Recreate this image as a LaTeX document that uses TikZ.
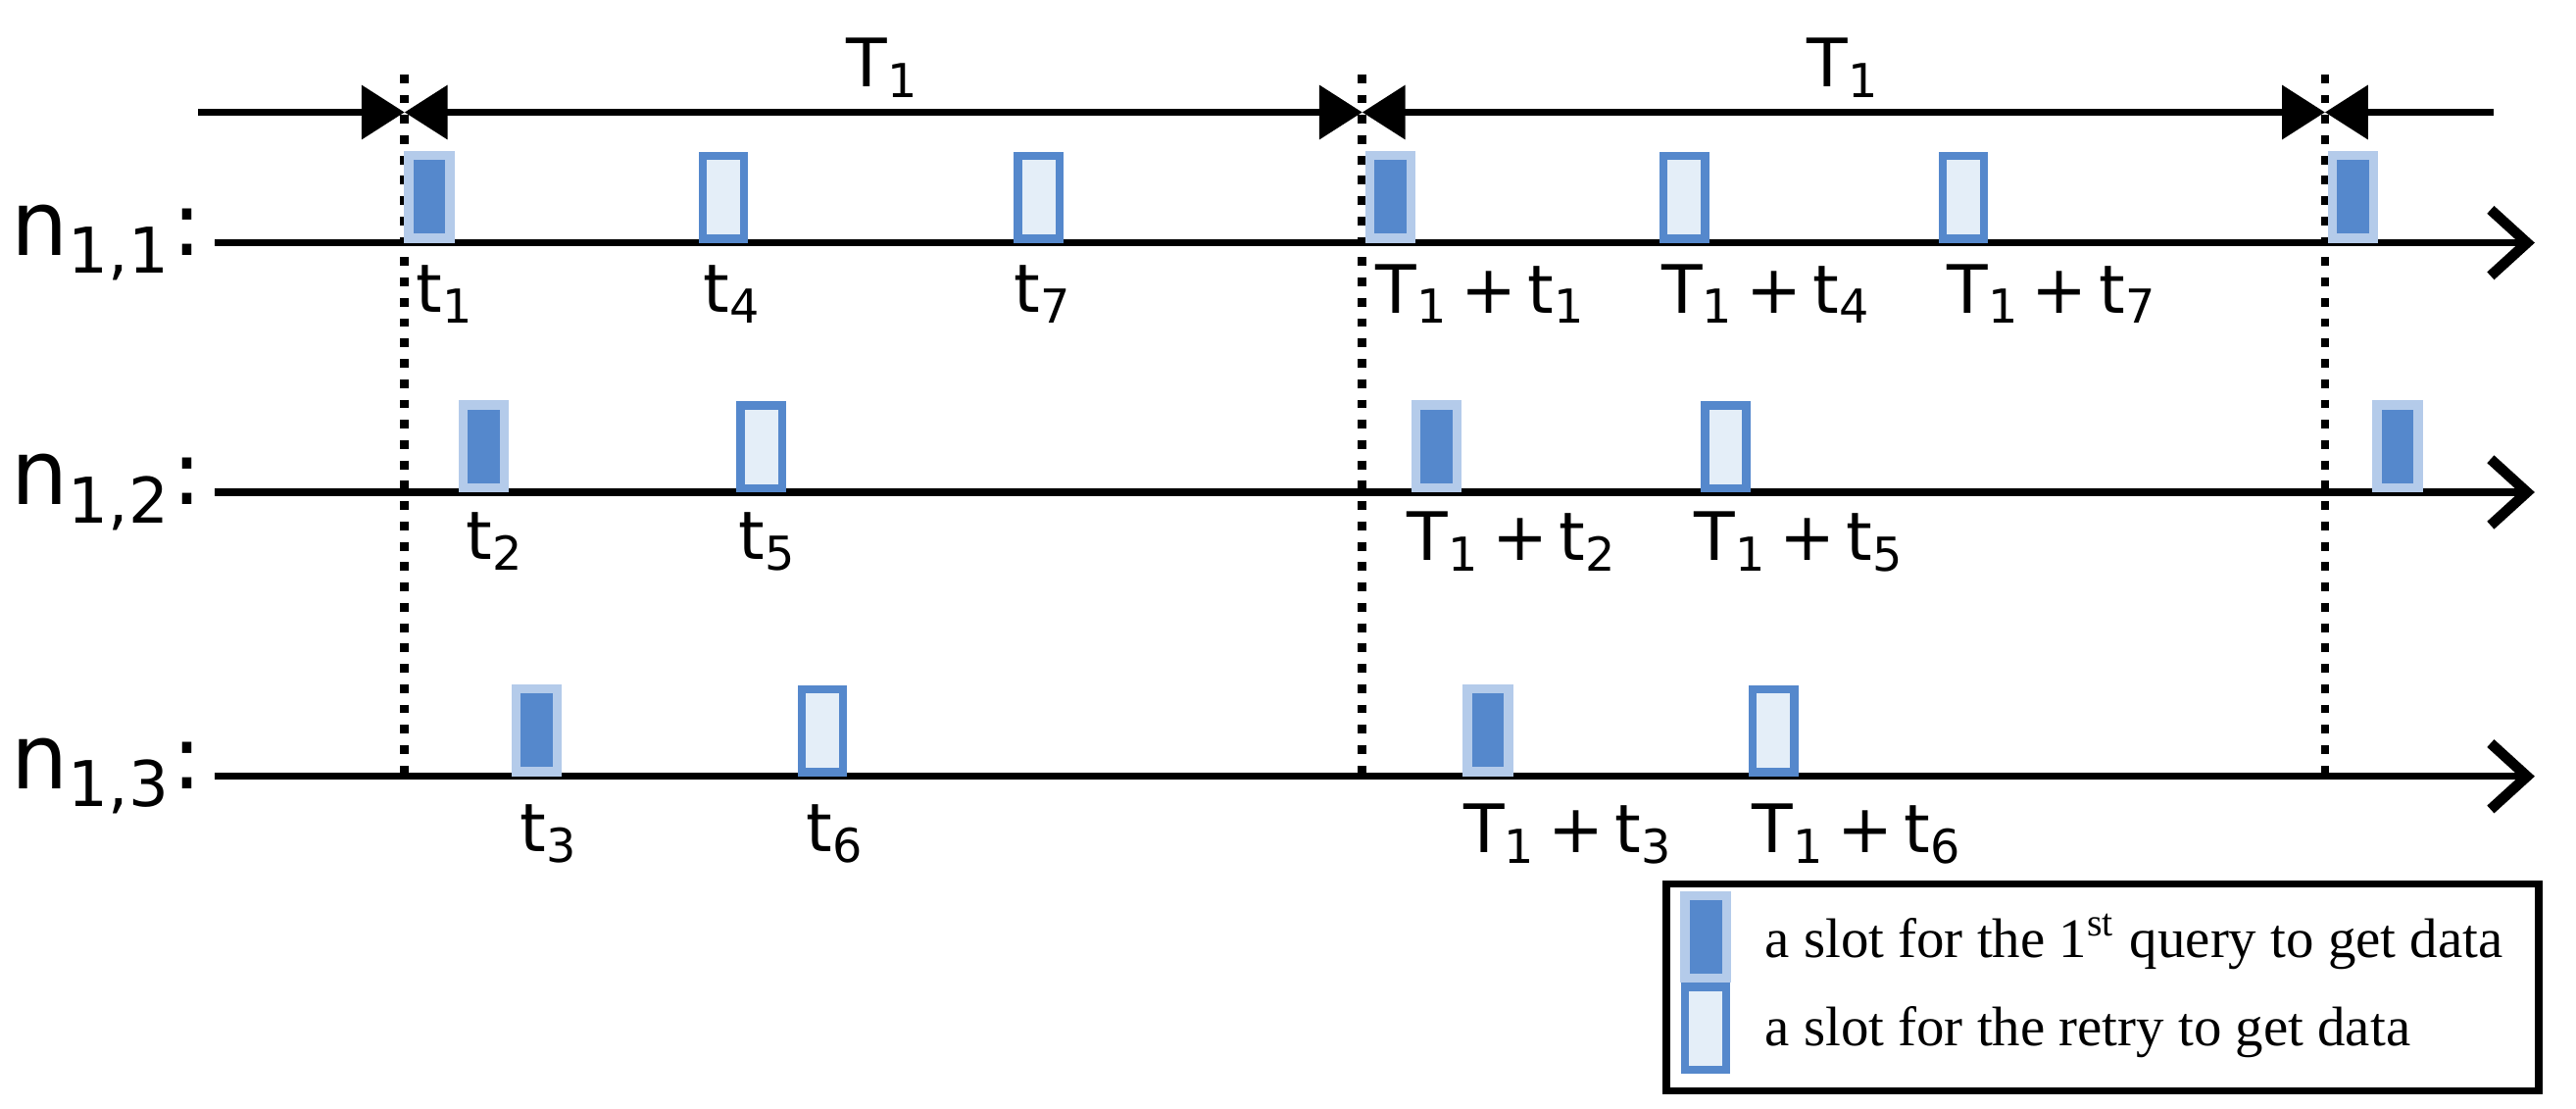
\documentclass[tikz,border=0pt]{standalone}
\usepackage{fontspec}
\setmainfont{DejaVu Sans}
\newfontfamily\legendfont{Liberation Serif}
\usetikzlibrary{positioning, arrows.meta}
\definecolor{slotblue}{HTML}{5588CC}
\definecolor{slotedge}{HTML}{B4CBEA}
\definecolor{slotpale}{HTML}{E4EEF8}
\newcommand{\sub}[1]{\textsubscript{#1}}
\begin{document}
\begin{tikzpicture}
    [
        x=0.01cm, y=-0.01cm,
        axis/.style={line width=1.2pt, -{Straight Barb[length=2.2mm, width=4mm, line width=1.8pt]}},
        span/.style={line width=1.2pt, {Triangle[length=2.6mm, width=3.2mm]}-{Triangle[length=2.6mm, width=3.2mm]}},
        bound/.style={line width=1.5pt, dotted},
        first/.style={rectangle, draw=slotedge, fill=slotblue, line width=1.6pt, minimum width=2.5mm, minimum height=5mm, inner sep=0pt, anchor=south},
        retry/.style={rectangle, draw=slotblue, fill=slotpale, line width=1.4pt, minimum width=2.5mm, minimum height=5mm, inner sep=0pt, anchor=south},
        lbl/.style={font=\fontsize{11.5}{13}\selectfont, inner sep=0pt},
        row/.style={font=\fontsize{15.5}{17}\selectfont, inner sep=0pt},
    ]
        \useasboundingbox (0,0) rectangle (1560,671);
        % period boundaries
        \foreach \bx/\bn in {245/b0, 825/b1, 1408/b2}
        {
            \coordinate (\bn top) at (\bx,45);
            \coordinate (\bn) at (\bx,68);
            \coordinate (\bn bot) at (\bx,470);
            \draw[bound] (\bn top) -- (\bn bot);
        }
        \coordinate (left) at (120,68);
        \coordinate (right) at (1510,68);
        \draw[line width=1.2pt, -{Triangle[length=2.6mm, width=3.2mm]}] (left) -- (b0);
        \draw[span] (b0) -- node[lbl, above=2pt] {T\sub{1}} (b1);
        \draw[span] (b1) -- node[lbl, above=2pt] {T\sub{1}} (b2);
        \draw[line width=1.2pt, -{Triangle[length=2.6mm, width=3.2mm]}] (right) -- (b2);
        % time axes
        \foreach \ry/\rn/\rt in {147/r1/{n\sub{1,1}:}, 298/r2/{n\sub{1,2}:}, 470/r3/{n\sub{1,3}:}}
        {
            \coordinate (\rn s) at (130,\ry);
            \coordinate (\rn e) at (1535,\ry);
            \node[row, left=2pt] (\rn name) at (\rn s) {\rt};
            \draw[axis] (\rn s) -- (\rn e);
        }
        % slots for the first query
        \foreach \sx/\sy/\sn in {260/147/f11, 842/147/f12, 1425/147/f13, 293/298/f21, 870/298/f22, 1452/298/f23, 325/470/f31, 901/470/f32}
            \node[first] (\sn) at (\sx,\sy) {};
        % slots for the retries
        \foreach \sx/\sy/\sn in {438/147/r11, 629/147/r12, 1020/147/r13, 1189/147/r14, 461/298/r21, 1045/298/r22, 498/470/r31, 1074/470/r32}
            \node[retry] (\sn) at (\sx,\sy) {};
        % slot times
        \foreach \tx/\ty/\tt in {270/178/t\sub{1}, 444/178/t\sub{4}, 632/178/t\sub{7}, 897/178/T\sub{1}\,+\,t\sub{1}, 1070/178/T\sub{1}\,+\,t\sub{4}, 1243/178/T\sub{1}\,+\,t\sub{7},
                300/328/t\sub{2}, 465/328/t\sub{5}, 916/328/T\sub{1}\,+\,t\sub{2}, 1090/328/T\sub{1}\,+\,t\sub{5},
                333/505/t\sub{3}, 506/505/t\sub{6}, 950/505/T\sub{1}\,+\,t\sub{3}, 1125/505/T\sub{1}\,+\,t\sub{6}}
            \node[lbl] at (\tx,\ty) {\tt};
        % legend
        \node[draw, line width=1.2pt, minimum width=5.28cm, minimum height=1.25cm, anchor=north west] (legend) at (1007,533) {};
        \node[first] (keyfirst) at (1033,595) {};
        \node[retry] (keyretry) at (1033,650) {};
        \node[right=10pt of keyfirst.south, anchor=west, yshift=2.5mm, font=\legendfont\fontsize{9.6}{11}\selectfont, inner sep=0pt] {a slot for the 1\textsuperscript{st} query to get data};
        \node[right=10pt of keyretry.south, anchor=west, yshift=2.5mm, font=\legendfont\fontsize{9.6}{11}\selectfont, inner sep=0pt] {a slot for the retry to get data};
    \end{tikzpicture}
\end{document}
